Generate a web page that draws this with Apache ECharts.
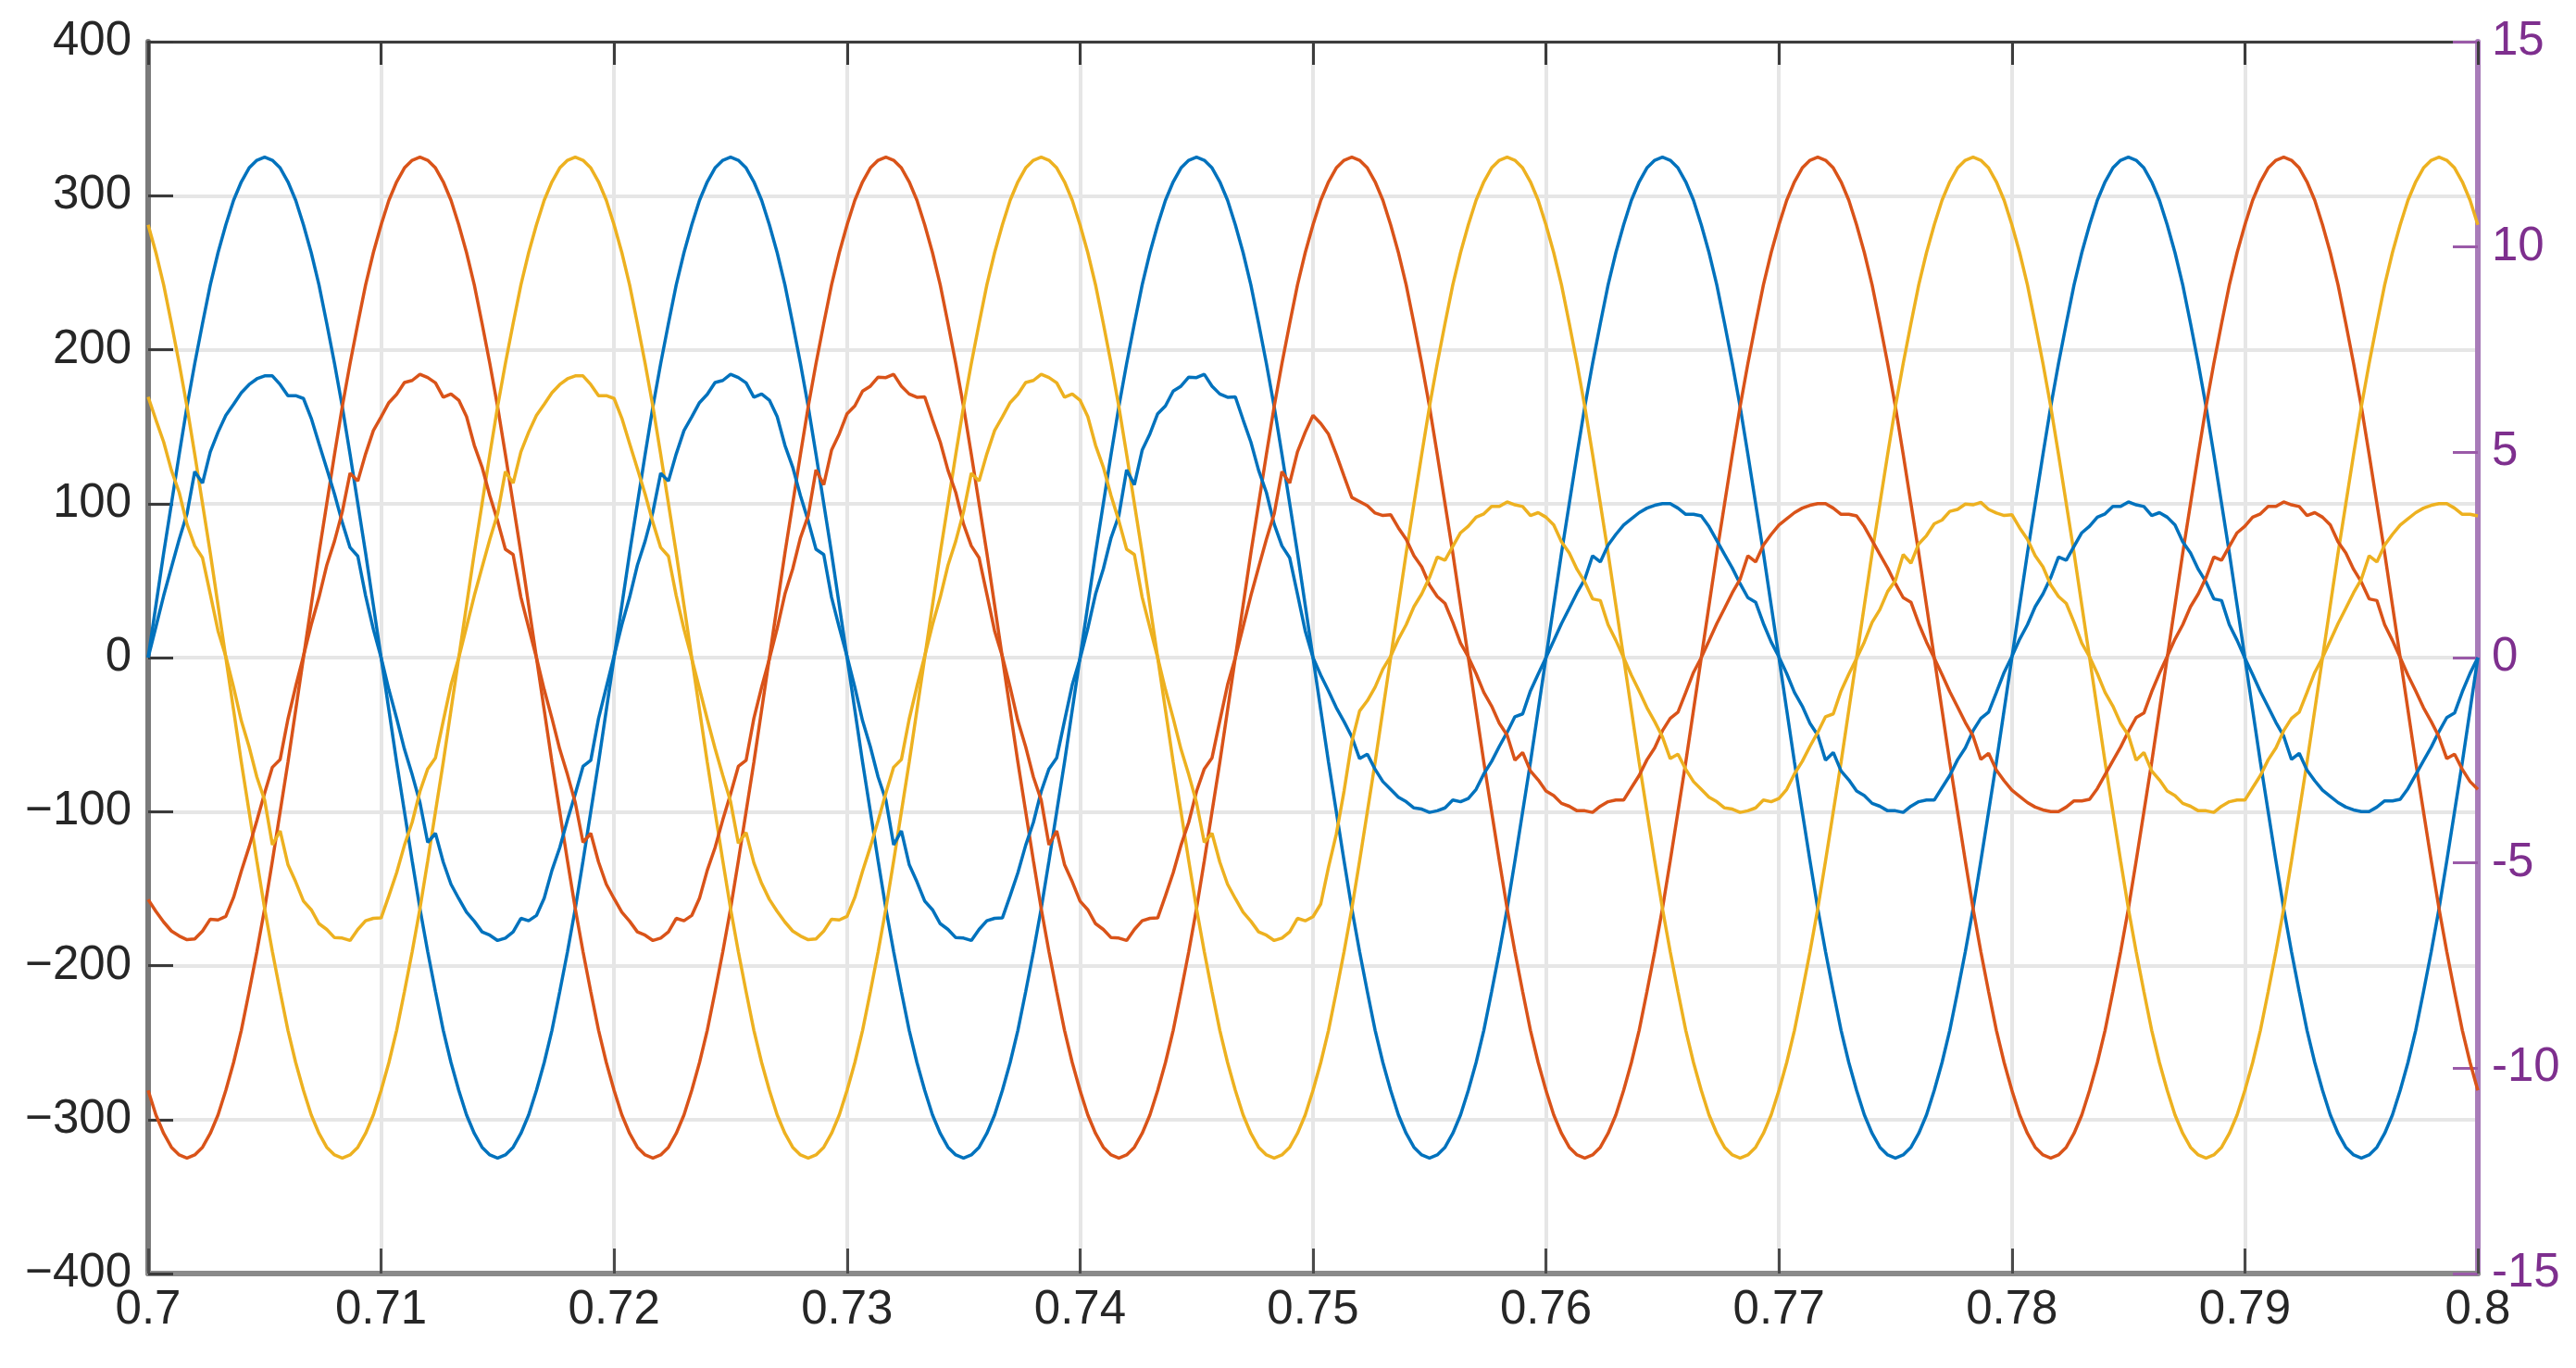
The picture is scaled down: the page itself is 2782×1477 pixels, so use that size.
<!DOCTYPE html>
<html>
<head>
<meta charset="utf-8">
<script src="https://cdn.jsdelivr.net/npm/echarts@6/dist/echarts.min.js"></script>
<style>
html,body{margin:0;padding:0;background:#fff;}
#c{width:2782px;height:1477px;}
</style>
</head>
<body>
<div id="c"></div>
<script>
// Sampling: one sample every 1/3000 s (6 electrical degrees at 50 Hz), 0.7 s .. 0.8 s
const T_START = 0.7;
const T_STEP = 1 / 3000;

// x-axis ticks
const xTicks = [0.7, 0.71, 0.72, 0.73, 0.74, 0.75, 0.76, 0.77, 0.78, 0.79, 0.8];
// left axis ticks (V)
const leftTicks = [-400, -300, -200, -100, 0, 100, 200, 300, 400];
// right axis ticks (A)
const rightTicks = [-15, -10, -5, 0, 5, 10, 15];

// Phase voltages (left axis, V)
const voltageA = [
0,34,68,100,132,163,191,217,242,263,281,297,309,318,323,325,323,318,309,297,281,263,242,217,191,163,132,100,68,34,
0,-34,-68,-100,-132,-163,-191,-217,-242,-263,-281,-297,-309,-318,-323,-325,-323,-318,-309,-297,-281,-263,-242,-217,-191,-163,-132,-100,-68,-34,
0,34,68,100,132,163,191,217,242,263,281,297,309,318,323,325,323,318,309,297,281,263,242,217,191,163,132,100,68,34,
0,-34,-68,-100,-132,-163,-191,-217,-242,-263,-281,-297,-309,-318,-323,-325,-323,-318,-309,-297,-281,-263,-242,-217,-191,-163,-132,-100,-68,-34,
0,34,68,100,132,163,191,217,242,263,281,297,309,318,323,325,323,318,309,297,281,263,242,217,191,163,132,100,68,34,
0,-34,-68,-100,-132,-163,-191,-217,-242,-263,-281,-297,-309,-318,-323,-325,-323,-318,-309,-297,-281,-263,-242,-217,-191,-163,-132,-100,-68,-34,
0,34,68,100,132,163,191,217,242,263,281,297,309,318,323,325,323,318,309,297,281,263,242,217,191,163,132,100,68,34,
0,-34,-68,-100,-132,-163,-191,-217,-242,-263,-281,-297,-309,-318,-323,-325,-323,-318,-309,-297,-281,-263,-242,-217,-191,-163,-132,-100,-68,-34,
0,34,68,100,132,163,191,217,242,263,281,297,309,318,323,325,323,318,309,297,281,263,242,217,191,163,132,100,68,34,
0,-34,-68,-100,-132,-163,-191,-217,-242,-263,-281,-297,-309,-318,-323,-325,-323,-318,-309,-297,-281,-263,-242,-217,-191,-163,-132,-100,-68,-34,
0];

const voltageB = [
-281,-297,-309,-318,-323,-325,-323,-318,-309,-297,-281,-263,-242,-217,-191,-163,-132,-100,-68,-34,
0,34,68,100,132,163,191,217,242,263,281,297,309,318,323,325,323,318,309,297,281,263,242,217,191,163,132,100,68,34,
0,-34,-68,-100,-132,-163,-191,-217,-242,-263,-281,-297,-309,-318,-323,-325,-323,-318,-309,-297,-281,-263,-242,-217,-191,-163,-132,-100,-68,-34,
0,34,68,100,132,163,191,217,242,263,281,297,309,318,323,325,323,318,309,297,281,263,242,217,191,163,132,100,68,34,
0,-34,-68,-100,-132,-163,-191,-217,-242,-263,-281,-297,-309,-318,-323,-325,-323,-318,-309,-297,-281,-263,-242,-217,-191,-163,-132,-100,-68,-34,
0,34,68,100,132,163,191,217,242,263,281,297,309,318,323,325,323,318,309,297,281,263,242,217,191,163,132,100,68,34,
0,-34,-68,-100,-132,-163,-191,-217,-242,-263,-281,-297,-309,-318,-323,-325,-323,-318,-309,-297,-281,-263,-242,-217,-191,-163,-132,-100,-68,-34,
0,34,68,100,132,163,191,217,242,263,281,297,309,318,323,325,323,318,309,297,281,263,242,217,191,163,132,100,68,34,
0,-34,-68,-100,-132,-163,-191,-217,-242,-263,-281,-297,-309,-318,-323,-325,-323,-318,-309,-297,-281,-263,-242,-217,-191,-163,-132,-100,-68,-34,
0,34,68,100,132,163,191,217,242,263,281,297,309,318,323,325,323,318,309,297,281,263,242,217,191,163,132,100,68,34,
0,-34,-68,-100,-132,-163,-191,-217,-242,-263,-281];

const voltageC = [
281,263,242,217,191,163,132,100,68,34,
0,-34,-68,-100,-132,-163,-191,-217,-242,-263,-281,-297,-309,-318,-323,-325,-323,-318,-309,-297,-281,-263,-242,-217,-191,-163,-132,-100,-68,-34,
0,34,68,100,132,163,191,217,242,263,281,297,309,318,323,325,323,318,309,297,281,263,242,217,191,163,132,100,68,34,
0,-34,-68,-100,-132,-163,-191,-217,-242,-263,-281,-297,-309,-318,-323,-325,-323,-318,-309,-297,-281,-263,-242,-217,-191,-163,-132,-100,-68,-34,
0,34,68,100,132,163,191,217,242,263,281,297,309,318,323,325,323,318,309,297,281,263,242,217,191,163,132,100,68,34,
0,-34,-68,-100,-132,-163,-191,-217,-242,-263,-281,-297,-309,-318,-323,-325,-323,-318,-309,-297,-281,-263,-242,-217,-191,-163,-132,-100,-68,-34,
0,34,68,100,132,163,191,217,242,263,281,297,309,318,323,325,323,318,309,297,281,263,242,217,191,163,132,100,68,34,
0,-34,-68,-100,-132,-163,-191,-217,-242,-263,-281,-297,-309,-318,-323,-325,-323,-318,-309,-297,-281,-263,-242,-217,-191,-163,-132,-100,-68,-34,
0,34,68,100,132,163,191,217,242,263,281,297,309,318,323,325,323,318,309,297,281,263,242,217,191,163,132,100,68,34,
0,-34,-68,-100,-132,-163,-191,-217,-242,-263,-281,-297,-309,-318,-323,-325,-323,-318,-309,-297,-281,-263,-242,-217,-191,-163,-132,-100,-68,-34,
0,34,68,100,132,163,191,217,242,263,281,297,309,318,323,325,323,318,309,297,281];

// Phase currents (right axis, A) - amplitude steps down at t = 0.75 s
const currentA = [
0.00,0.75,1.51,2.20,2.88,3.50,4.53,4.25,5.01,5.49,5.90,6.17,6.45,6.65,6.79,6.86,6.86,6.65,6.38,6.38,6.31,5.83,5.21,4.60,3.98,3.29,2.68,2.47,1.51,0.69,
0.00,-0.78,-1.48,-2.23,-2.85,-3.53,-4.50,-4.28,-4.98,-5.52,-5.87,-6.20,-6.42,-6.68,-6.76,-6.89,-6.83,-6.68,-6.35,-6.41,-6.28,-5.86,-5.18,-4.63,-3.95,-3.32,-2.65,-2.50,-1.48,-0.72,
0.04,0.80,1.47,2.25,2.84,3.55,4.49,4.30,4.96,5.53,5.86,6.21,6.41,6.70,6.75,6.90,6.82,6.69,6.34,6.42,6.27,5.87,5.17,4.64,3.94,3.33,2.64,2.51,1.47,0.73,
0.03,-0.72,-1.54,-2.17,-2.91,-3.47,-4.56,-4.22,-5.04,-5.46,-5.93,-6.14,-6.48,-6.62,-6.82,-6.83,-6.89,-6.62,-6.41,-6.35,-6.34,-5.80,-5.24,-4.57,-4.01,-3.26,-2.71,-2.44,-1.54,-0.66,
-0.03,0.71,1.55,2.16,2.92,3.46,4.57,4.21,5.05,5.45,5.94,6.13,6.49,6.61,6.83,6.82,6.90,6.61,6.42,6.34,6.35,5.79,5.25,4.56,4.02,3.25,2.72,2.43,1.55,0.65,
0.00,-0.43,-0.81,-1.22,-1.56,-1.93,-2.46,-2.35,-2.72,-3.02,-3.21,-3.40,-3.51,-3.66,-3.69,-3.77,-3.73,-3.66,-3.47,-3.51,-3.43,-3.21,-2.83,-2.53,-2.16,-1.82,-1.44,-1.37,-0.81,-0.40,
0.00,0.41,0.83,1.20,1.58,1.91,2.48,2.33,2.74,3.00,3.23,3.38,3.53,3.64,3.71,3.75,3.75,3.64,3.49,3.49,3.45,3.19,2.85,2.51,2.18,1.80,1.46,1.35,0.83,0.38,
0.02,-0.39,-0.85,-1.18,-1.60,-1.89,-2.50,-2.31,-2.76,-2.98,-3.25,-3.36,-3.55,-3.62,-3.73,-3.73,-3.77,-3.62,-3.51,-3.47,-3.47,-3.17,-2.87,-2.49,-2.20,-1.78,-1.48,-1.33,-0.85,-0.36,
0.03,0.45,0.80,1.24,1.55,1.95,2.45,2.37,2.71,3.04,3.20,3.42,3.50,3.68,3.68,3.79,3.72,3.68,3.46,3.53,3.42,3.23,2.82,2.55,2.15,1.84,1.43,1.39,0.80,0.42,
-0.01,-0.41,-0.83,-1.20,-1.58,-1.91,-2.48,-2.33,-2.74,-3.00,-3.23,-3.38,-3.53,-3.64,-3.71,-3.75,-3.75,-3.64,-3.49,-3.49,-3.45,-3.19,-2.85,-2.51,-2.18,-1.80,-1.46,-1.35,-0.83,-0.38,
0.00];

const currentB = [
-5.89,-6.18,-6.44,-6.66,-6.78,-6.87,-6.85,-6.66,-6.37,-6.39,-6.30,-5.84,-5.20,-4.61,-3.97,-3.30,-2.67,-2.48,-1.50,-0.70,
0.04,0.80,1.47,2.25,2.84,3.55,4.49,4.30,4.96,5.53,5.86,6.21,6.41,6.70,6.75,6.90,6.82,6.69,6.34,6.42,6.27,5.87,5.17,4.64,3.94,3.33,2.64,2.51,1.47,0.73,
0.00,-0.78,-1.48,-2.23,-2.85,-3.53,-4.50,-4.28,-4.98,-5.52,-5.87,-6.20,-6.42,-6.68,-6.76,-6.89,-6.83,-6.68,-6.35,-6.41,-6.28,-5.86,-5.18,-4.63,-3.95,-3.32,-2.65,-2.50,-1.48,-0.72,
-0.03,0.71,1.55,2.16,2.92,3.46,4.57,4.21,5.05,5.45,5.94,6.13,6.49,6.61,6.83,6.82,6.90,6.61,6.42,6.34,6.35,5.79,5.25,4.56,4.02,3.25,2.72,2.43,1.55,0.65,
0.03,-0.72,-1.54,-2.17,-2.91,-3.47,-4.56,-4.22,-5.04,-5.46,-5.93,-6.14,-6.48,-6.62,-6.82,-6.83,-6.89,-6.62,-6.41,-6.35,-6.34,-5.80,-5.24,-4.57,-4.01,-3.26,-2.71,-2.44,-1.54,-0.66,
0.00,0.75,1.51,2.20,2.88,3.50,4.53,4.25,5.01,5.49,
5.90,5.70,5.44,4.95,4.42,3.90,3.80,3.70,
3.52,3.46,3.48,3.16,2.88,2.48,2.21,1.77,1.49,1.32,0.86,0.35,
0.02,-0.39,-0.85,-1.18,-1.60,-1.89,-2.50,-2.31,-2.76,-2.98,-3.25,-3.36,-3.55,-3.62,-3.73,-3.73,-3.77,-3.62,-3.51,-3.47,-3.47,-3.17,-2.87,-2.49,-2.20,-1.78,-1.48,-1.33,-0.85,-0.36,
0.00,0.41,0.83,1.20,1.58,1.91,2.48,2.33,2.74,3.00,3.23,3.38,3.53,3.64,3.71,3.75,3.75,3.64,3.49,3.49,3.45,3.19,2.85,2.51,2.18,1.80,1.46,1.35,0.83,0.38,
-0.01,-0.41,-0.83,-1.20,-1.58,-1.91,-2.48,-2.33,-2.74,-3.00,-3.23,-3.38,-3.53,-3.64,-3.71,-3.75,-3.75,-3.64,-3.49,-3.49,-3.45,-3.19,-2.85,-2.51,-2.18,-1.80,-1.46,-1.35,-0.83,-0.38,
0.03,0.45,0.80,1.24,1.55,1.95,2.45,2.37,2.71,3.04,3.20,3.42,3.50,3.68,3.68,3.79,3.72,3.68,3.46,3.53,3.42,3.23,2.82,2.55,2.15,1.84,1.43,1.39,0.80,0.42,
0.00,-0.43,-0.81,-1.22,-1.56,-1.93,-2.46,-2.35,-2.72,-3.02,-3.21];

const currentC = [
6.35,5.79,5.25,4.56,4.02,3.25,2.72,2.43,1.55,0.65,
0.03,-0.72,-1.54,-2.17,-2.91,-3.47,-4.56,-4.22,-5.04,-5.46,-5.93,-6.14,-6.48,-6.62,-6.82,-6.83,-6.89,-6.62,-6.41,-6.35,-6.34,-5.80,-5.24,-4.57,-4.01,-3.26,-2.71,-2.44,-1.54,-0.66,
0.00,0.75,1.51,2.20,2.88,3.50,4.53,4.25,5.01,5.49,5.90,6.17,6.45,6.65,6.79,6.86,6.86,6.65,6.38,6.38,6.31,5.83,5.21,4.60,3.98,3.29,2.68,2.47,1.51,0.69,
-0.02,-0.76,-1.50,-2.21,-2.87,-3.51,-4.52,-4.26,-5.00,-5.50,-5.89,-6.18,-6.44,-6.66,-6.78,-6.87,-6.85,-6.66,-6.37,-6.39,-6.30,-5.84,-5.20,-4.61,-3.97,-3.30,-2.67,-2.48,-1.50,-0.70,
0.04,0.80,1.47,2.25,2.84,3.55,4.49,4.30,4.96,5.53,5.86,6.21,6.41,6.70,6.75,6.90,6.82,6.69,6.34,6.42,6.27,5.87,5.17,4.64,3.94,3.33,2.64,2.51,1.47,0.73,
0.00,-0.78,-1.48,-2.23,-2.85,-3.53,-4.50,-4.28,-4.98,-5.52,-5.87,-6.20,-6.42,-6.68,-6.76,-6.89,-6.83,-6.68,-6.35,-6.41,
-6.31,-6.00,-5.10,-4.30,-3.25,-2.05,-1.30,-1.05,-0.72,-0.28,
0.03,0.45,0.80,1.24,1.55,1.95,2.45,2.37,2.71,3.04,3.20,3.42,3.50,3.68,3.68,3.79,3.72,3.68,3.46,3.53,3.42,3.23,2.82,2.55,2.15,1.84,1.43,1.39,0.80,0.42,
0.00,-0.43,-0.81,-1.22,-1.56,-1.93,-2.46,-2.35,-2.72,-3.02,-3.21,-3.40,-3.51,-3.66,-3.69,-3.77,-3.73,-3.66,-3.47,-3.51,-3.43,-3.21,-2.83,-2.53,-2.16,-1.82,-1.44,-1.37,-0.81,-0.40,
-0.02,0.38,0.86,1.17,1.61,1.88,2.51,2.30,2.77,2.97,3.26,3.35,3.56,3.61,3.74,3.72,3.78,3.61,3.52,3.46,3.48,3.16,2.88,2.48,2.21,1.77,1.49,1.32,0.86,0.35,
0.02,-0.39,-0.85,-1.18,-1.60,-1.89,-2.50,-2.31,-2.76,-2.98,-3.25,-3.36,-3.55,-3.62,-3.73,-3.73,-3.77,-3.62,-3.51,-3.47,-3.47,-3.17,-2.87,-2.49,-2.20,-1.78,-1.48,-1.33,-0.85,-0.36,
0.00,0.41,0.83,1.20,1.58,1.91,2.48,2.33,2.74,3.00,3.23,3.38,3.53,3.64,3.71,3.75,3.75,3.64,3.49,3.49,3.45];

const COLORS = ['#0072BD', '#D95319', '#EDB120'];
const PURPLE = '#7E2F8E';
const FONT = '"Liberation Sans", Arial, Helvetica, sans-serif';

function toPairs(vals) {
  return vals.map((v, i) => [T_START + i * T_STEP, v]);
}

const chart = echarts.init(document.getElementById('c'), null, {renderer: 'canvas'});

const voltages = [voltageA, voltageB, voltageC];
const currents = [currentA, currentB, currentC];

const series = [];
voltages.forEach((arr, k) => series.push({
  type: 'line', xAxisIndex: 0, yAxisIndex: 0, data: toPairs(arr),
  showSymbol: false, symbol: 'none', smooth: false,
  lineStyle: {color: COLORS[k], width: 3.5}, itemStyle: {color: COLORS[k]}, z: 3
}));
currents.forEach((arr, k) => series.push({
  type: 'line', xAxisIndex: 0, yAxisIndex: 1, data: toPairs(arr),
  showSymbol: false, symbol: 'none', smooth: false,
  lineStyle: {color: COLORS[k], width: 3.5}, itemStyle: {color: COLORS[k]}, z: 4
}));

const lenIssues = [voltageA, voltageB, voltageC, currentA, currentB, currentC]
  .map((a, i) => a.length !== 301 ? ('series ' + i + ' len ' + a.length) : null).filter(Boolean);

chart.setOption({
  animation: false,
  backgroundColor: '#ffffff',
  grid: {left: 160, right: 106, top: 45, bottom: 102, containLabel: false},
  xAxis: [{
    type: 'value', position: 'bottom',
    min: xTicks[0], max: xTicks[xTicks.length - 1], interval: 0.01,
    axisLine: {show: true, onZero: false, lineStyle: {color: '#8a8a8a', width: 6}},
    axisTick: {show: true, inside: true, length: 27, lineStyle: {color: '#4a4a4a', width: 3}},
    axisLabel: {
      show: true, margin: 14, color: '#262626', fontSize: 51, fontFamily: FONT,
      formatter: v => String(Math.round(v * 100) / 100)
    },
    splitLine: {show: true, lineStyle: {color: '#e6e6e6', width: 4}}
  }, {
    type: 'value', position: 'top',
    min: xTicks[0], max: xTicks[xTicks.length - 1], interval: 0.01,
    axisLine: {show: true, onZero: false, lineStyle: {color: '#3c3c3c', width: 3}},
    axisTick: {show: true, inside: true, length: 25, lineStyle: {color: '#3c3c3c', width: 3}},
    axisLabel: {show: false},
    splitLine: {show: false}
  }],
  yAxis: [{
    type: 'value', position: 'left',
    min: leftTicks[0], max: leftTicks[leftTicks.length - 1], interval: 100,
    axisLine: {show: true, onZero: false, lineStyle: {color: '#7a7a7a', width: 6}},
    axisTick: {show: true, inside: true, length: 27, lineStyle: {color: '#3a3a3a', width: 3}},
    axisLabel: {
      show: true, margin: 18, color: '#262626', fontSize: 51, fontFamily: FONT,
      formatter: v => (v < 0 ? '\u2212' + Math.abs(v) : String(v))
    },
    splitLine: {show: true, lineStyle: {color: '#e6e6e6', width: 4}}
  }, {
    type: 'value', position: 'right',
    min: rightTicks[0], max: rightTicks[rightTicks.length - 1], interval: 5,
    axisLine: {show: true, onZero: false, lineStyle: {color: '#a87cb9', width: 6}},
    axisTick: {show: true, inside: true, length: 27, lineStyle: {color: '#9a5aa8', width: 3}},
    axisLabel: {
      show: true, margin: 15, color: PURPLE, fontSize: 51, fontFamily: FONT,
      formatter: v => String(v)
    },
    splitLine: {show: false}
  }],
  graphic: lenIssues.length ? [{type: 'text', left: 400, top: 60, style: {text: lenIssues.join(' | '), fontSize: 40, fill: 'red'}}] : [],
  series: series
});
</script>
</body>
</html>
